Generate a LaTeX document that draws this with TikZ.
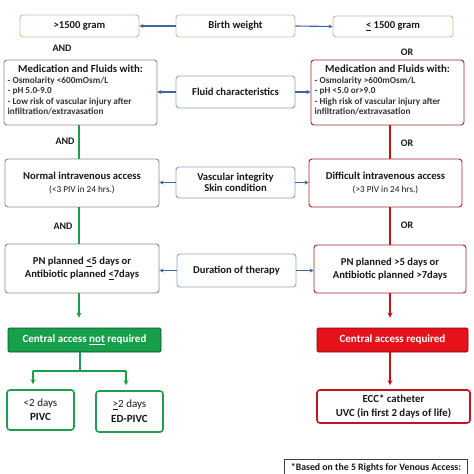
\documentclass[tikz,border=0pt]{standalone}
\usepackage{fontspec}
\setmainfont{Carlito}
\usetikzlibrary{arrows.meta}
\definecolor{tanb}{HTML}{D9B99B}
\definecolor{grayb}{HTML}{8C8C84}
\definecolor{redb}{HTML}{A3242E}
\definecolor{blueb}{HTML}{8FA3C6}
\definecolor{bluea}{HTML}{3F64A0}
\definecolor{greenl}{HTML}{1E9E4A}
\definecolor{redl}{HTML}{C8101E}
\definecolor{greenf}{HTML}{17A04A}
\definecolor{greend}{HTML}{0B4F24}
\definecolor{redf}{HTML}{E5121C}
\definecolor{redd}{HTML}{7A0A0A}
\newcommand\mysubtxt{\mdseries\fontsize{9.2}{11}\selectfont}
\begin{document}
\begin{tikzpicture}[x=1pt,y=-1pt,
  base/.style={rectangle,rounded corners=3pt,fill=white,inner sep=0pt,align=center,
    font=\bfseries\fontsize{10.6}{13}\selectfont,text=black!90},
  tanbox/.style={base,draw=tanb,line width=0.9pt},
  graybox/.style={base,draw=grayb,line width=0.9pt},
  redbox/.style={base,draw=redb,line width=0.9pt},
  bluebox/.style={base,draw=blueb,line width=0.9pt},
  gbox/.style={base,draw=greenl,line width=1.6pt,font=\fontsize{11}{14}\selectfont},
  rbox/.style={base,draw=redl,line width=1.6pt,font=\bfseries\fontsize{10.8}{13.5}\selectfont},
  cbox/.style={base,rounded corners=1.5pt,line width=0.9pt,text=white,font=\bfseries\fontsize{11}{12}\selectfont},
  lab/.style={font=\bfseries\fontsize{10}{12}\selectfont,text=black!90,inner sep=0pt},
  ttl/.style={inner sep=0pt,font=\bfseries\fontsize{10.8}{12}\selectfont,text=black!90},
  lst/.style={inner sep=0pt,anchor=north west,align=left,font=\bfseries\fontsize{9.2}{10.5}\selectfont,text=black!80},
  barrow/.style={bluea,line width=1.1pt,-{Stealth[length=4pt,width=4pt]}},
  gline/.style={greenl,line width=1.4pt},
  rline/.style={redl,line width=1.4pt},
  garrow/.style={gline,-{Stealth[length=5pt,width=5pt]}},
  rarrow/.style={rline,-{Stealth[length=5pt,width=5pt]}}
]
\useasboundingbox (0,0) rectangle (474,474);

% top row
\node[tanbox,minimum width=119pt,minimum height=22pt] (w1) at (79.5,26) {>1500 gram};
\node[tanbox,minimum width=119pt,minimum height=22pt] (bw) at (235.5,26) {Birth weight};
\node[tanbox,minimum width=120pt,minimum height=21pt] (w2) at (393,26.5) {\underline{<} 1500 gram};
\node[lab] (and1) at (62,48) {AND};
\node[lab] (or1) at (407,52) {OR};

% medication row
\node[graybox,minimum width=153pt,minimum height=65pt] (med1) at (80.5,92.5) {};
\node[ttl] (med1t) at (80.5,69) {Medication and Fluids with:};
\node[lst] (med1l) at (7.5,76.5) {- Osmolarity <600mOsm/L\\- pH 5.0-9.0\\- Low risk of vascular injury after\\infiltration/extravasation};
\node[bluebox,minimum width=119pt,minimum height=32pt] (fc) at (235.5,92) {Fluid characteristics};
\node[redbox,minimum width=153pt,minimum height=65pt] (med2) at (387.5,92.5) {};
\node[ttl] (med2t) at (387.5,69) {Medication and Fluids with:};
\node[lst] (med2l) at (314.5,76.5) {- Osmolarity >600mOsm/L\\- pH <5.0 or>9.0\\- High risk of vascular injury after\\infiltration/extravasation};
\node[lab] (and2) at (65,141) {AND};
\node[lab] (or2) at (407,143) {OR};

% access row
\node[graybox,minimum width=154pt,minimum height=48pt] (niv) at (82,183)
  {Normal intravenous access\\{\mysubtxt(<3 PIV in 24 hrs.)}};
\node[bluebox,minimum width=119pt,minimum height=31pt] (vi) at (235.5,182.5) {Vascular integrity\\[-1.5pt]Skin condition};
\node[redbox,minimum width=153pt,minimum height=48pt] (div) at (385.5,183)
  {Difficult intravenous access\\{\mysubtxt(>3 PIV in 24 hrs.)}};
\node[lab] (and3) at (63,226) {AND};
\node[lab] (or3) at (407,225) {OR};

% therapy row
\node[graybox,minimum width=154pt,minimum height=49pt] (pn1) at (82,268.5)
  {PN planned \underline{<}5 days or\\Antibiotic planned \underline{<}7days};
\node[bluebox,minimum width=119pt,minimum height=33pt] (dur) at (236.5,270.5) {Duration of therapy};
\node[redbox,minimum width=152pt,minimum height=48pt] (pn2) at (390,269)
  {PN planned >5 days or\\Antibiotic planned >7days};

% central access
\node[cbox,fill=greenf,draw=greend,minimum width=153pt,minimum height=24pt] (cnr) at (84.5,340)
  {Central access \underline{not} required};
\node[cbox,fill=redf,draw=redd,minimum width=151pt,minimum height=24pt] (cr) at (392.5,340)
  {Central access required};

% bottom
\node[gbox,minimum width=67pt,minimum height=40pt] (p1) at (40.5,410) {<2 days\\{\bfseries PIVC}};
\node[gbox,minimum width=67pt,minimum height=41pt] (p2) at (129.5,411.5) {\underline{>}2 days\\[1pt]{\bfseries ED-PIVC}};
\node[rbox,minimum width=153pt,minimum height=33pt] (ecc) at (393.5,406.5) {ECC* catheter\\UVC (in first 2 days of life)};

% footnote
\node[draw=black!75,line width=0.9pt,fill=white,minimum width=183pt,minimum height=36pt,inner sep=0pt] (fn) at (375.5,477) {};
\node[inner sep=0pt,font=\bfseries\fontsize{9.8}{11}\selectfont,text=black!90] (fnt) at (376,467.5) {*Based on the 5 Rights for Venous Access:};

% blue arrows
\draw[barrow] (bw.west) -- (w1.east);
\draw[barrow] (bw.east) -- (w2.west);
\draw[barrow] (fc.west) -- (med1.east |- fc.west);
\draw[barrow] (fc.east) -- (med2.west |- fc.east);
\draw[barrow] (vi.west) -- (niv.east |- vi.west);
\draw[barrow] (vi.east) -- (div.west |- vi.east);
\draw[barrow] (dur.west) -- (pn1.east |- dur.west);
\draw[barrow] (dur.east) -- (pn2.west |- dur.east);

% column lines
\coordinate (L) at (79,0);
\coordinate (R) at (390,0);
\draw[gline] (med1.south -| L) -- (niv.north -| L);
\draw[gline] (niv.south -| L) -- (pn1.north -| L);
\draw[garrow,shorten >=10pt] (pn1.south -| L) -- (cnr.north -| L);
\draw[rline] (med2.south -| R) -- (div.north -| R);
\draw[rline] (div.south -| R) -- (pn2.north -| R);
\draw[rarrow,shorten >=10pt] (pn2.south -| R) -- (cr.north -| R);
\draw[rarrow,shorten >=4pt] (cr.south -| R) -- (ecc.north -| R);

% split
\coordinate (sp) at (80,371);
\coordinate (sa) at (33,371);
\coordinate (sb) at (126,371);
\draw[gline] (cnr.south -| sp) -- (sp);
\draw[gline] (sa) -- (sb);
\draw[garrow,shorten >=5pt] (sa) -- (p1.north -| sa);
\draw[garrow,shorten >=5pt] (sb) -- (p2.north -| sb);
\end{tikzpicture}
\end{document}
